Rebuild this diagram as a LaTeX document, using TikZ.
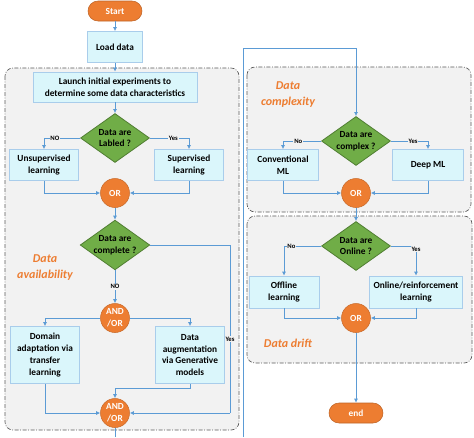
\documentclass[tikz,border=0pt]{standalone}
\usepackage{fontspec}
\setmainfont{Carlito}
\usetikzlibrary{shapes.geometric,arrows.meta}
\definecolor{flowblue}{HTML}{5B9BD5}
\definecolor{floworange}{HTML}{ED7D31}
\definecolor{flowgreen}{HTML}{70AD47}
\definecolor{greenline}{HTML}{507E32}
\definecolor{boxfill}{HTML}{DAF6FB}
\definecolor{boxline}{HTML}{A9CDEB}
\definecolor{regionfill}{HTML}{F2F2F2}
\definecolor{regionline}{HTML}{595959}

\begin{document}
\begin{tikzpicture}[x=0.75pt,y=0.75pt,yscale=-1,xscale=1,
  txt/.style={font=\fontsize{7}{8.8}\selectfont\bfseries,align=center},
  pill/.style={txt,text=white,fill=floworange,draw=floworange!80!black,rounded corners=7.5pt,minimum width=40.5pt,minimum height=15pt,inner sep=0pt},
  pale/.style={txt,fill=boxfill,draw=boxline,line width=0.5pt,inner sep=1pt},
  ask/.style={txt,shape=diamond,fill=flowgreen,draw=greenline,line width=0.6pt,inner sep=0pt,minimum width=51.75pt,minimum height=36.75pt,aspect=1.4},
  gate/.style={txt,text=white,circle,fill=floworange,draw=floworange!85!black,minimum size=21.75pt,inner sep=0pt},
  region/.style={fill=regionfill,draw=regionline,line width=0.5pt,rounded corners=6pt,dash pattern=on 3pt off 1.2pt on 0.6pt off 1.2pt},
  area/.style={font=\fontsize{9}{12}\selectfont\bfseries\itshape,text=floworange,align=center},
  arr/.style={draw=flowblue,line width=0.6pt,-{Latex[length=3pt,width=3pt]}},
  wire/.style={draw=flowblue,line width=0.6pt},
  tag/.style={font=\fontsize{5}{6}\selectfont\bfseries,fill=regionfill,inner sep=0.6pt}]
\useasboundingbox (0,0) rectangle (474,437);

%Shape: Region left [id:availability]
\draw[region] (5,68) rectangle (239,430);
%Shape: Region right top [id:complexity]
\draw[region] (247,67) rectangle (471,212);
%Shape: Region right bottom [id:drift]
\draw[region] (247,216) rectangle (472,363);

% Region labels
\node (lavail) at (45,268) [area] {Data\\availability};
\node (lcplx) at (288,95) [area] {Data\\complexity};
\node (ldrift) at (288,343) [area] {Data drift};

% Left column
\node (start) at (115,11) [pill] {Start};
\node (load) at (115,47) [pale,minimum width=41.25pt,minimum height=23.25pt] {Load data};
\node (launch) at (115,87) [pale,minimum width=123pt,minimum height=22.5pt] {Launch initial experiments to\\determine some data characteristics};
\node (dlab) at (115,138) [ask] {Data are\\Labled ?};
\node (unsup) at (44,165) [pale,minimum width=51.75pt,minimum height=23.25pt] {Unsupervised\\learning};
\node (sup) at (189,165) [pale,minimum width=51.75pt,minimum height=23.25pt] {Supervised\\learning};
\node (or1) at (115,193) [gate] {OR};
\node (dcomp) at (115,245) [ask] {Data are\\complete ?};
\node (andor1) at (115,318) [gate] {AND\\/OR};
\node (domain) at (45,355) [pale,minimum width=51.75pt,minimum height=42.75pt] {Domain\\adaptation via\\transfer\\learning};
\node (aug) at (190,355) [pale,minimum width=51.75pt,minimum height=42.75pt] {Data\\augmentation\\via Generative\\models};
\node (andor2) at (115,413) [gate] {AND\\/OR};
\coordinate (yesbend) at (230,413);
\coordinate (exitL) at (115,437);
\coordinate (exitR) at (243,437);
\coordinate (feedtop) at (243,48);

% Right column
\node (dcplx) at (356,141) [ask] {Data are\\complex ?};
\node (conv) at (283,165) [pale,minimum width=53.25pt,minimum height=23.25pt] {Conventional\\ML};
\node (deep) at (428,165) [pale,minimum width=53.25pt,minimum height=23.25pt] {Deep ML};
\node (or3) at (356,193) [gate] {OR};
\node (donl) at (356,246) [ask] {Data are\\Online ?};
\node (offl) at (284,292) [pale,minimum width=52.5pt,minimum height=24pt] {Offline\\learning};
\node (onl) at (416,292) [pale,minimum width=69.75pt,minimum height=24pt] {Online/reinforcement\\learning};
\node (or4) at (356,318) [gate] {OR};
\node (end) at (356,413) [pill] {end};

% Connectors left
\draw[arr] (start) -- (load);
\draw[arr] (load) -- (launch);
\draw[arr] (launch) -- (dlab);
\draw[arr] (dlab.west) -| node[tag,pos=0.35] {NO} (unsup.north);
\draw[arr] (dlab.east) -| node[tag,pos=0.3] {Yes} (sup.north);
\draw[arr] (unsup) |- (or1);
\draw[arr] (sup) |- (or1);
\draw[arr] (or1) -- (dcomp);
\draw[arr] (dcomp) -- node[tag] {NO} (andor1);
\draw[arr] (andor1) -| (domain);
\draw[arr] (andor1) -| (aug);
\draw[arr] (domain) |- (andor2);
\draw[arr] (aug.south) -- ++(0,5) -| (andor2.north);
\draw[wire] (dcomp.east) -| node[tag,pos=0.78] {Yes} (yesbend);
\draw[arr] (yesbend) -- (andor2);
\draw[wire] (andor2) -- (exitL);
\draw[wire] (exitR) -- (feedtop);
\draw[arr] (feedtop) -| (dcplx.north);

% Connectors right
\draw[arr] (dcplx.west) -| node[tag,pos=0.3] {No} (conv.north);
\draw[arr] (dcplx.east) -| node[tag,pos=0.3] {Yes} (deep.north);
\draw[arr] (conv) |- (or3);
\draw[arr] (deep) |- (or3);
\draw[arr] (or3) -- (donl);
\draw[arr] (donl.west) -| node[tag,pos=0.4] {No} (offl.north);
\draw[arr] (donl.east) -| node[tag,pos=0.55] {Yes} (onl.north);
\draw[arr] (offl) |- (or4);
\draw[arr] (onl) |- (or4);
\draw[arr] (or4) -- (end);

\end{tikzpicture}
\end{document}
